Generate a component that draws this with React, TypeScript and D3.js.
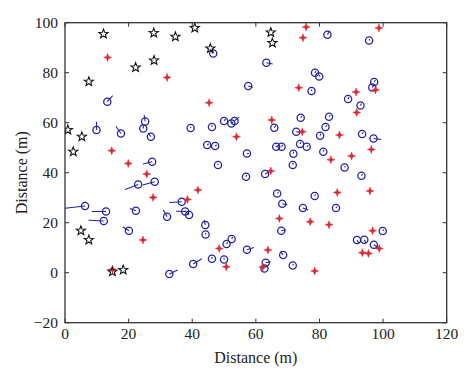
import React from "react";
import * as d3 from "d3";

const xTicks = [0, 20, 40, 60, 80, 100, 120];
const yTicks = [-20, 0, 20, 40, 60, 80, 100];
const xLabel = "Distance (m)";
const yLabel = "Distance (m)";

const starX = [12.1, 27.9, 34.7, 40.8, 45.7, 64.7, 65.2, 22.2, 28.0, 7.5, 0.9, 5.3, 2.6, 5.0, 7.5, 14.9, 18.3];
const starY = [95.5, 95.9, 94.4, 97.9, 89.7, 96.1, 91.9, 82.1, 84.9, 76.4, 57.1, 54.4, 48.4, 16.8, 13.1, 0.4, 1.1];

const redX = [13.4, 32.1, 45.3, 75.8, 74.8, 98.7, 73.5, 91.5, 97.6, 91.7, 65.0, 74.6, 53.9, 86.3, 14.7, 19.9, 25.7, 64.7, 83.6, 90.1, 96.3, 41.8, 27.7, 38.5, 85.6, 95.9, 67.4, 77.1, 83.0, 96.7, 24.5, 48.5, 63.8, 93.5, 95.4, 98.8, 50.7, 78.5, 14.9, 62.2];
const redY = [86.1, 78.1, 68.0, 98.3, 94.0, 97.9, 74.0, 72.3, 73.1, 64.1, 61.1, 56.4, 54.4, 55.1, 48.8, 43.7, 39.5, 40.7, 45.2, 46.7, 49.3, 33.1, 30.1, 29.3, 32.1, 32.7, 21.7, 20.4, 19.2, 16.8, 13.1, 9.7, 9.1, 8.0, 7.7, 9.7, 2.4, 0.7, 1.3, 2.3];

const circleX = [13.3, 9.9, 17.6, 25.2, 24.6, 27.0, 27.4, 23.0, 28.2, 39.5, 46.2, 46.6, 50.0, 52.3, 53.3, 44.7, 47.2, 48.1, 57.2, 56.9, 57.6, 63.3, 62.9, 65.8, 66.4, 68.1, 71.8, 71.6, 72.7, 74.1, 73.9, 76.0, 77.5, 78.6, 79.9, 82.5, 81.9, 83.0, 80.2, 81.2, 89.0, 92.9, 95.6, 97.2, 96.6, 93.4, 97.0, 87.9, 93.2, 6.3, 12.9, 12.2, 20.1, 22.3, 36.7, 32.1, 37.8, 39.0, 44.1, 44.2, 32.8, 40.3, 46.2, 50.0, 50.8, 52.4, 57.2, 63.1, 62.7, 68.6, 71.6, 66.7, 68.3, 74.8, 78.5, 68.0, 85.2, 91.8, 94.1, 97.1, 99.9];
const circleY = [68.4, 57.1, 55.7, 60.5, 57.7, 54.4, 44.4, 35.3, 36.4, 57.9, 58.3, 87.7, 60.7, 59.7, 60.7, 51.1, 50.7, 43.1, 47.7, 38.4, 74.7, 84.0, 39.5, 58.0, 50.4, 50.4, 47.6, 43.1, 56.4, 62.0, 51.5, 50.4, 72.7, 80.0, 78.5, 95.2, 58.3, 62.4, 54.8, 48.4, 69.5, 66.9, 92.9, 76.3, 74.1, 55.5, 53.7, 42.1, 38.8, 26.7, 24.5, 20.7, 16.8, 24.8, 28.4, 22.4, 24.5, 23.1, 19.1, 15.3, -0.5, 3.5, 5.6, 5.3, 11.5, 13.5, 9.2, 4.0, 1.7, 7.1, 2.9, 31.7, 27.6, 25.9, 30.7, 16.8, 25.9, 13.1, 13.2, 11.2, 16.7];
const tailDX = [1.7, 0, -1.6, -0.3, 0, -0.8, -2.9, -4.1, -3.8, 0, 0, -1, 0.5, 0.6, 1.4, 0.5, 0.5, 0, 0.6, 0.2, 1.4, 2.0, 1.4, 0.5, 0.6, 0.4, 0.1, 0.1, 1.2, 0.4, 0.3, 0.5, 0, 0.3, 0.3, 0.8, 0.4, 0.4, 0.2, 0.2, 0.3, 0.3, 0.2, 0.4, 0.4, 0.4, 2.4, 0.3, 0.3, -6.3, -4.5, -4.8, -2.0, -1.9, -3.9, -1.2, -2.9, -1.3, -0.4, 0, 2.6, 2.7, 0, 0, 0.3, 0.3, 2.2, 1.6, -0.4, -0.9, 0.2, 0.4, 1.6, 1.7, 0.3, 1.5, 0.3, 0.6, 0.6, 1.3, 0.3];
const tailDY = [2.4, 3.3, 2.9, 2.5, 1.2, 1.6, -0.9, -2.0, -1.3, 0.5, 0.8, 1.6, 0.8, 0.6, 1.5, 0.5, 0.4, 0.5, 0, 0.7, -0.5, -0.5, 0.9, 0.8, 0.5, 0.8, 0.8, 0.8, -0.3, 0.7, 0.8, 0.5, 0.6, 0.7, 0.7, 1.6, 0.7, 0.7, 0.8, 0.8, 0.8, 0.8, 0.6, 0.8, 0.8, 0.7, -0.4, 0.5, 0.7, -0.9, 0, 0.3, 1.6, 0.9, -0.3, 2.7, 0.1, 1.7, 2.0, 0.6, 1.6, 2.1, 0.7, 0.7, 0.7, 0.8, 0.9, 0.4, 0.6, 1.3, 0.6, 0.5, -0.5, -0.8, 0.6, 0.3, 0.6, -1.4, -1.4, -1.1, 0.6];

const W = 474, H = 382;
const M = { left: 65, right: 446.7, top: 22.7, bottom: 322.7 };

function starPath(cx: number, cy: number, ro: number, ri: number, n: number) {
  const pts: [number, number][] = [];
  for (let i = 0; i < n * 2; i++) {
    const r = i % 2 === 0 ? ro : ri;
    const a = -Math.PI / 2 + (i * Math.PI) / n;
    pts.push([cx + r * Math.cos(a), cy + r * Math.sin(a)]);
  }
  return d3.line()(pts) + "Z";
}

export default function App() {
  const x = d3.scaleLinear().domain([0, 120]).range([M.left, M.right]);
  const y = d3.scaleLinear().domain([-20, 100]).range([M.bottom, M.top]);
  const font = "'Liberation Serif', 'Times New Roman', serif";
  const tickLen = 4;
  const frame = "#333";
  const blue = "#2323a8";
  return (
    <div style={{ position: "absolute", left: 0, top: 0 }}>
      <svg width={W} height={H} style={{ display: "block", background: "#fff" }}>
        <defs>
          <clipPath id="plotclip">
            <rect x={M.left} y={M.top} width={M.right - M.left} height={M.bottom - M.top} />
          </clipPath>
        </defs>
        {xTicks.map((t) => (
          <g key={"xt" + t}>
            <line x1={x(t)} x2={x(t)} y1={M.bottom} y2={M.bottom - tickLen} stroke={frame} strokeWidth={1} />
            <line x1={x(t)} x2={x(t)} y1={M.top} y2={M.top + tickLen} stroke={frame} strokeWidth={1} />
            <text x={x(t)} y={M.bottom + 16.5} textAnchor="middle" fontFamily={font} fontSize={15.5} fill="#222">
              {t}
            </text>
          </g>
        ))}
        {yTicks.map((t) => (
          <g key={"yt" + t}>
            <line x1={M.left} x2={M.left + tickLen} y1={y(t)} y2={y(t)} stroke={frame} strokeWidth={1} />
            <line x1={M.right} x2={M.right - tickLen} y1={y(t)} y2={y(t)} stroke={frame} strokeWidth={1} />
            <text x={M.left - 7} y={y(t)} dy="0.35em" textAnchor="end" fontFamily={font} fontSize={15.5} fill="#222">
              {t < 0 ? "\u2212" + Math.abs(t) : t}
            </text>
          </g>
        ))}
        <g clipPath="url(#plotclip)">
          {circleX.map((cx, i) => (
            <g key={"c" + i}>
              <line
                x1={x(cx)}
                y1={y(circleY[i])}
                x2={x(cx + tailDX[i])}
                y2={y(circleY[i] + tailDY[i])}
                stroke={blue}
                strokeWidth={1.1}
              />
              <circle cx={x(cx)} cy={y(circleY[i])} r={3.6} fill="none" stroke={blue} strokeWidth={1.3} />
            </g>
          ))}
          {redX.map((rx, i) => (
            <path key={"r" + i} d={starPath(x(rx), y(redY[i]), 4.0, 1.5, 4)} fill="#e3242b" stroke="#e3242b" strokeWidth={0.5} />
          ))}
          {starX.map((sx, i) => (
            <path key={"s" + i} d={starPath(x(sx), y(starY[i]), 4.8, 2.0, 5)} fill="none" stroke="#111" strokeWidth={1.1} />
          ))}
        </g>
        <rect x={M.left} y={M.top} width={M.right - M.left} height={M.bottom - M.top} fill="none" stroke={frame} strokeWidth={1.3} />
        <text x={(M.left + M.right) / 2} y={363} textAnchor="middle" fontFamily={font} fontSize={16} fill="#222">
          {xLabel}
        </text>
        <text
          transform={`translate(27,${(M.top + M.bottom) / 2}) rotate(-90)`}
          textAnchor="middle"
          fontFamily={font}
          fontSize={16}
          fill="#222"
        >
          {yLabel}
        </text>
      </svg>
    </div>
  );
}
